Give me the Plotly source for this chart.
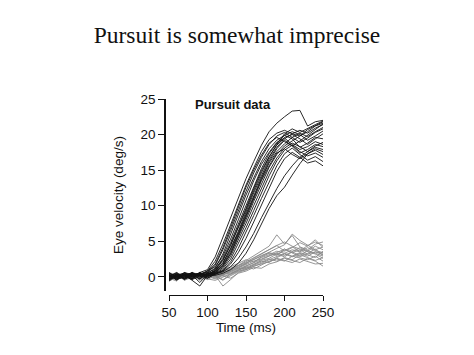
import plotly.graph_objects as go

# Time samples (ms)
time_ms = [50, 60, 70, 80, 90, 100, 110, 120, 130, 140, 150, 160, 170, 180, 190, 200, 210, 220, 230, 240, 250]

# Pursuit traces (black)
pursuit_traces = [
    [0.2, -0.3, 0.5, 0.1, 0.6, 1.0, 2.8, 5.5, 8.2, 11.0, 13.8, 16.2, 18.5, 20.4, 21.6, 22.5, 23.3, 23.4, 21.2, 21.8, 22.0],
    [-0.4, 0.3, -0.2, 0.4, 0.2, 0.8, 2.2, 4.6, 7.3, 10.2, 12.9, 15.3, 17.6, 19.3, 20.2, 20.6, 20.1, 19.8, 20.4, 21.2, 21.6],
    [0.5, 0.0, 0.3, -0.3, 0.4, 0.6, 1.6, 3.8, 6.5, 9.4, 12.0, 14.6, 16.8, 18.6, 19.8, 20.3, 19.6, 18.9, 19.5, 20.3, 20.8],
    [-0.2, 0.4, 0.1, 0.6, -0.1, 0.5, 1.2, 3.2, 5.9, 8.6, 11.5, 13.9, 16.2, 18.0, 19.2, 19.9, 19.4, 18.2, 18.8, 19.6, 19.4],
    [0.3, -0.5, 0.6, 0.0, 0.3, 0.9, 1.4, 2.9, 5.3, 8.0, 10.8, 13.5, 15.8, 17.5, 18.9, 19.5, 18.6, 17.9, 18.3, 19.0, 18.6],
    [-0.6, 0.2, -0.3, 0.3, 0.5, 0.2, 1.0, 2.6, 4.8, 7.4, 10.2, 12.8, 15.2, 17.3, 18.8, 19.9, 20.4, 20.0, 19.2, 19.8, 20.5],
    [0.1, 0.5, -0.4, 0.2, -0.8, 0.3, 0.9, 2.3, 4.5, 7.0, 9.6, 12.4, 14.9, 16.9, 18.5, 19.6, 20.0, 19.4, 18.6, 19.4, 20.1],
    [0.4, -0.2, 0.2, 0.5, 0.0, 0.4, 0.8, 2.0, 4.0, 6.4, 9.1, 11.8, 14.2, 16.5, 18.2, 19.4, 20.1, 20.6, 20.2, 20.9, 21.4],
    [-0.3, 0.1, 0.4, -0.2, 0.6, 0.1, 0.7, 1.7, 3.6, 6.0, 8.6, 11.2, 13.7, 16.0, 17.6, 18.7, 19.6, 20.2, 19.7, 20.4, 21.0],
    [0.2, -0.4, 0.0, 0.4, -0.3, 0.5, 0.6, 1.5, 3.2, 5.5, 8.0, 10.6, 13.1, 15.4, 17.2, 18.4, 19.1, 19.8, 20.7, 21.3, 21.8],
    [-0.5, 0.3, 0.1, -0.4, 0.2, 0.0, 0.5, 1.3, 2.9, 5.1, 7.5, 10.0, 12.5, 14.8, 16.7, 18.1, 18.8, 18.3, 17.6, 18.2, 17.9],
    [0.0, 0.6, -0.2, 0.3, 0.4, -0.2, 0.4, 1.1, 2.5, 4.6, 6.9, 9.3, 11.8, 14.2, 16.3, 17.8, 18.5, 17.6, 17.0, 17.4, 16.8],
    [0.6, -0.1, 0.3, -0.5, -1.3, 0.2, 0.3, 0.9, 2.1, 4.0, 6.2, 8.6, 11.0, 13.4, 15.6, 17.3, 18.1, 17.2, 16.4, 16.9, 16.2],
    [-0.1, 0.2, 0.5, 0.0, 0.3, 0.4, 0.5, 0.8, 1.8, 3.4, 5.4, 7.7, 10.1, 12.5, 14.8, 16.6, 17.5, 16.8, 16.0, 16.3, 15.6],
    [0.3, -0.3, 0.0, 0.6, 0.1, -0.2, 0.4, 0.7, 1.4, 2.6, 4.2, 6.1, 8.3, 10.4, 12.4, 14.2, 15.6, 16.8, 17.6, 18.4, 18.9],
    [-0.4, 0.4, -0.1, 0.2, 0.5, 0.3, 0.2, 0.5, 1.0, 1.9, 3.3, 5.2, 7.4, 9.6, 11.4, 12.6, 14.3, 15.9, 17.3, 18.0, 17.6],
    [0.1, -0.2, 0.3, -0.1, 0.4, 0.7, 1.8, 4.1, 6.9, 9.8, 12.6, 15.0, 17.1, 18.8, 19.6, 19.0, 18.4, 19.1, 19.9, 20.7, 21.5],
    [-0.2, 0.0, 0.6, 0.3, -0.3, 0.5, 1.1, 2.4, 4.4, 6.8, 9.4, 12.1, 14.6, 16.8, 18.6, 20.1, 20.8, 20.3, 20.9, 21.4, 21.9],
    [0.2, 0.3, -0.3, 0.5, 0.2, 0.3, 0.8, 1.9, 3.9, 6.2, 8.8, 11.4, 13.9, 16.2, 18.0, 19.2, 18.4, 17.4, 17.9, 18.6, 18.3],
    [-0.3, -0.1, 0.2, -0.3, 0.6, 0.0, 0.6, 1.6, 3.3, 5.8, 8.4, 11.0, 13.5, 15.6, 17.4, 18.0, 17.2, 16.6, 17.3, 17.8, 17.2],
]

# Control / other traces (gray)
other_traces = [
    [0.3, -0.4, 0.2, 0.5, -0.2, 0.4, 0.3, 0.8, 1.2, 1.6, 2.3, 2.9, 3.6, 4.3, 5.9, 4.6, 5.8, 4.2, 3.8, 4.6, 4.9],
    [-0.5, 0.1, -0.3, 0.2, 0.4, 0.0, -0.3, 0.2, 0.9, 1.4, 1.8, 2.6, 3.2, 3.8, 4.4, 3.6, 4.1, 4.8, 4.3, 5.2, 4.1],
    [0.2, 0.6, 0.0, -0.4, 0.3, 0.5, 0.1, -0.5, 0.4, 1.0, 1.5, 2.0, 2.8, 3.3, 3.0, 3.9, 3.4, 3.8, 3.2, 3.5, 3.3],
    [-0.2, -0.6, 0.4, 0.1, -0.3, 0.2, 0.6, 0.3, 0.7, 1.2, 1.1, 1.7, 2.3, 2.6, 3.2, 2.8, 3.5, 3.0, 3.7, 3.3, 2.9],
    [0.6, 0.2, -0.4, 0.3, 0.0, -0.4, 0.2, -1.3, -0.4, 0.6, 1.0, 1.4, 1.9, 2.4, 2.8, 3.3, 2.9, 3.4, 3.1, 2.7, 3.6],
    [-0.4, 0.3, 0.1, -0.2, 0.5, 0.3, -0.1, 0.4, 0.5, 0.9, 1.4, 1.1, 1.6, 2.2, 2.5, 2.2, 2.9, 2.6, 2.4, 2.9, 2.2],
    [0.1, -0.2, 0.5, 0.4, -0.5, 0.1, 0.4, 0.1, -0.2, 0.5, 0.8, 1.3, 1.2, 1.8, 2.1, 2.6, 2.3, 2.0, 2.6, 2.2, 1.5],
    [0.4, 0.0, -0.2, -0.3, 0.2, 0.6, 0.3, 0.6, 1.1, 1.5, 2.0, 2.4, 2.9, 3.5, 4.0, 4.5, 6.0, 5.1, 4.4, 3.8, 4.2],
    [-0.3, 0.5, 0.3, 0.2, 0.1, -0.2, 0.5, 0.9, 1.4, 1.9, 2.4, 2.1, 2.7, 3.1, 3.6, 3.3, 3.8, 3.5, 4.1, 3.7, 3.4],
    [0.0, -0.3, -0.1, 0.6, 0.3, 0.2, -0.2, 0.3, 0.8, 1.2, 1.7, 2.2, 2.5, 2.9, 3.4, 3.9, 3.3, 2.8, 3.3, 3.9, 3.0],
    [0.5, 0.1, 0.3, -0.1, -0.4, 0.4, 0.2, -0.4, 0.2, 0.7, 1.2, 1.6, 2.1, 2.5, 2.2, 2.7, 2.4, 3.1, 2.7, 2.3, 2.7],
    [-0.6, -0.1, 0.2, 0.4, 0.2, -0.1, 0.3, 0.5, 0.6, 1.1, 1.5, 1.9, 2.4, 2.9, 3.3, 3.0, 3.6, 4.1, 3.6, 4.3, 3.8],
    [0.2, 0.4, -0.5, 0.0, 0.4, 0.3, 0.0, 0.2, 0.3, 0.8, 1.0, 1.5, 1.8, 2.1, 2.6, 2.3, 2.0, 2.5, 2.1, 1.8, 1.9],
    [-0.1, -0.4, 0.1, 0.3, -0.2, 0.5, 0.4, 0.7, 1.0, 1.3, 1.9, 2.5, 3.0, 3.4, 3.1, 3.7, 4.2, 3.6, 4.4, 4.9, 4.4],
    [0.3, 0.2, 0.4, -0.2, 0.1, -0.3, -0.5, -0.1, 0.4, 0.9, 1.3, 1.8, 2.2, 2.0, 2.7, 3.2, 2.8, 3.3, 2.9, 3.5, 3.1],
    [-0.2, 0.0, -0.3, 0.5, -0.1, 0.2, 0.1, 0.4, 0.9, 1.6, 2.1, 2.7, 3.3, 3.8, 4.4, 4.9, 4.3, 3.9, 3.5, 3.2, 2.6],
]

x_ticks = [50, 100, 150, 200, 250]
y_ticks = [0, 5, 10, 15, 20, 25]

W, H = 474, 355
fig = go.Figure()

for tr in other_traces:
    fig.add_trace(go.Scatter(x=time_ms, y=tr, mode="lines",
                             line=dict(color="#8a8a8a", width=0.9),
                             showlegend=False, hoverinfo="skip"))
for tr in pursuit_traces:
    fig.add_trace(go.Scatter(x=time_ms, y=tr, mode="lines",
                             line=dict(color="#111111", width=0.9),
                             showlegend=False, hoverinfo="skip"))

sans = "Liberation Sans, Arial, sans-serif"
axis_font = dict(family=sans, size=13.5, color="#111")

fig.update_layout(
    width=W, height=H,
    margin=dict(l=0, r=0, t=0, b=0),
    paper_bgcolor="white", plot_bgcolor="white",
    showlegend=False,
    title=dict(text="Pursuit is somewhat imprecise",
               font=dict(family="Liberation Serif, Times New Roman, serif", size=23.5, color="#111"),
               x=0.5, xanchor="center", y=1 - 35 / H, yanchor="middle"),
    xaxis=dict(
        domain=[169 / W, 323 / W], range=[50, 250],
        anchor="free", position=60 / H,
        tickvals=x_ticks, ticks="outside", ticklen=5, tickwidth=1.3, tickcolor="#111",
        showline=True, linecolor="#111", linewidth=1.3,
        showgrid=False, zeroline=False, tickfont=axis_font,
        title=dict(text="Time (ms)", font=dict(family=sans, size=13.5, color="#111"), standoff=3),
        automargin=False,
    ),
    yaxis=dict(
        domain=[64 / H, 256 / H], range=[-2, 25],
        anchor="free", position=165 / W,
        tickvals=y_ticks, ticks="outside", ticklen=6, tickwidth=1.3, tickcolor="#111",
        showline=True, linecolor="#111", linewidth=1.6,
        showgrid=False, zeroline=False, tickfont=axis_font,
        title=dict(text="Eye velocity (deg/s)", font=dict(family=sans, size=13.5, color="#111"), standoff=13),
        automargin=False,
    ),
    annotations=[dict(text="<b>Pursuit data</b>", xref="paper", yref="paper",
                      x=193 / W, y=1 - 104 / H, xanchor="left", yanchor="middle",
                      showarrow=False,
                      font=dict(family=sans, size=13, color="#111"))],
)

fig.write_html("out.html")
